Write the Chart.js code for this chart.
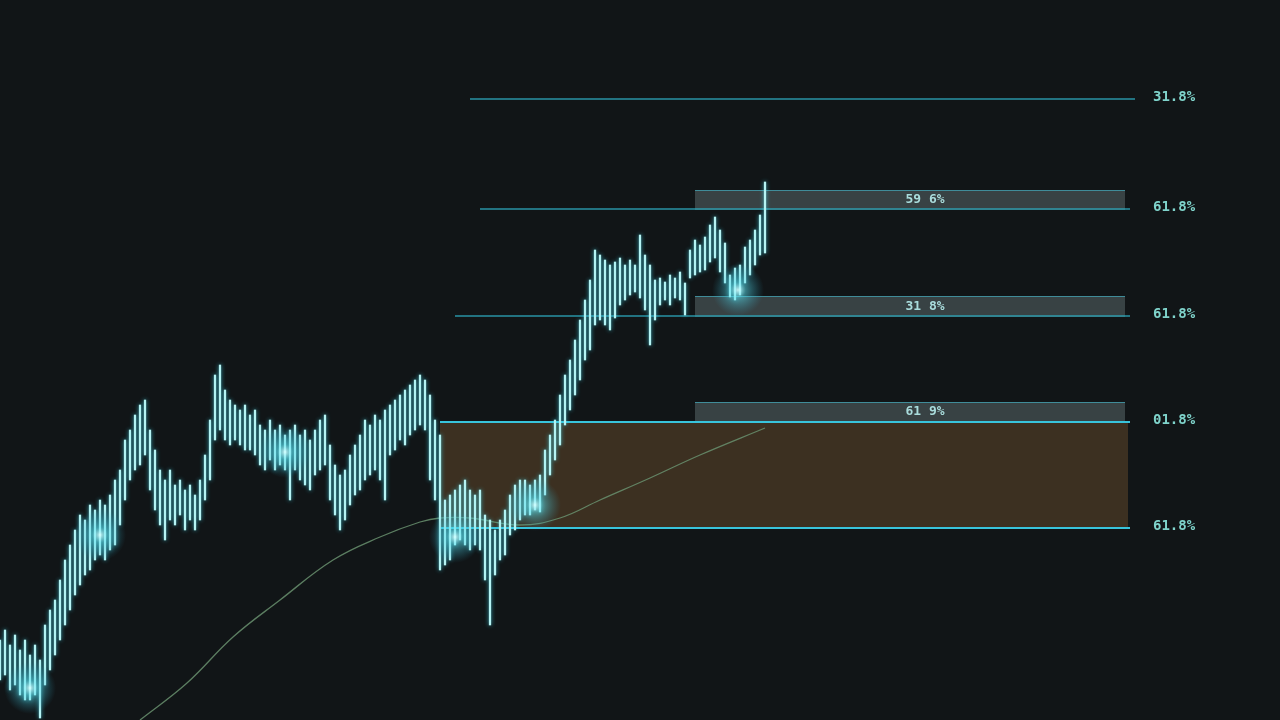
<!DOCTYPE html>
<html>
<head>
<meta charset="utf-8">
<script src="https://cdn.jsdelivr.net/npm/chart.js@4/dist/chart.umd.min.js"></script>
<style>
  html, body { margin: 0; padding: 0; background: #111517; }
  #wrap { width: 1280px; height: 720px; }
</style>
</head>
<body>
<div id="wrap"><canvas id="chart" width="1280" height="720"></canvas></div>
<script>
// ---------- data ----------
// bar index (one wick every step), price highs / lows
const highs = [
  8.0, 9.0, 7.5, 8.5, 7.0, 8.0, 6.5, 7.5, 6.0, 9.5,
  11.0, 12.0, 14.0, 16.0, 17.5, 19.0, 20.5, 20.0, 21.5, 21.0,
  22.0, 21.5, 22.5, 24.0, 25.0, 28.0, 29.0, 30.5, 31.5, 32.0,
  29.0, 27.0, 25.0, 24.0, 25.0, 23.5, 24.0, 23.0, 23.5, 22.5,
  24.0, 26.5, 30.0, 34.5, 35.5, 33.0, 32.0, 31.5, 31.0, 31.5,
  30.5, 31.0, 29.5, 29.0, 30.0, 29.0, 29.5, 28.5, 29.0, 29.5,
  28.5, 29.0, 28.0, 29.0, 30.0, 30.5, 27.5, 25.5, 24.5, 25.0,
  26.5, 27.5, 28.5, 30.0, 29.5, 30.5, 30.0, 31.0, 31.5, 32.0,
  32.5, 33.0, 33.5, 34.0, 34.5, 34.0, 32.5, 30.0, 28.5, 22.0,
  22.5, 23.0, 23.5, 24.0, 23.0, 22.5, 23.0, 20.5, 20.0, 19.0,
  20.0, 21.0, 22.5, 23.5, 24.0, 24.0, 23.5, 24.0, 24.5, 27.0,
  28.5, 30.0, 32.5, 34.5, 36.0, 38.0, 40.0, 42.0, 44.0, 47.0,
  46.5, 46.0, 45.5, 45.8, 46.2, 45.5, 46.0, 45.5, 48.5, 46.5,
  45.5, 44.0, 44.2, 43.8, 44.5, 44.2, 44.8, 43.7, 47.0, 48.0,
  47.5, 48.3, 49.5, 50.3, 49.0, 47.7, 44.5, 45.2, 45.5, 47.3,
  48.0, 49.0, 50.5, 53.8
];
const lows = [
  4.0, 4.5, 3.0, 3.5, 2.5, 2.0, 2.0, 2.5, 0.2, 3.5,
  5.0, 6.5, 8.0, 9.5, 11.0, 12.5, 13.5, 14.5, 15.0, 16.0,
  16.5, 16.0, 17.0, 17.5, 19.5, 22.0, 24.0, 25.0, 25.5, 26.5,
  23.0, 21.0, 19.5, 18.0, 20.0, 19.5, 20.5, 19.0, 20.0, 19.0,
  20.0, 22.0, 24.0, 28.0, 29.0, 28.0, 27.5, 28.0, 27.5, 27.0,
  27.0, 26.5, 25.5, 25.0, 26.0, 25.0, 25.5, 25.0, 22.0, 25.0,
  24.0, 23.5, 23.0, 24.5, 25.0, 25.5, 22.0, 20.5, 19.0, 20.0,
  21.5, 22.5, 23.0, 24.0, 24.5, 25.0, 24.0, 22.0, 26.5, 27.0,
  28.0, 27.5, 28.5, 29.0, 29.5, 29.0, 24.0, 22.0, 15.0, 15.5,
  16.0, 17.5, 18.0, 17.5, 17.0, 17.5, 17.0, 14.0, 9.5, 14.5,
  16.0, 16.5, 18.5, 19.0, 20.0, 20.5, 20.5, 21.0, 20.8, 22.5,
  24.5, 26.0, 27.5, 29.5, 31.0, 32.5, 34.0, 36.0, 37.0, 39.5,
  40.0, 39.5, 39.0, 40.2, 41.5, 42.0, 42.5, 42.8, 42.2, 41.0,
  37.5, 40.0, 41.5, 42.0, 41.5, 42.2, 42.0, 40.5, 44.2, 44.5,
  44.8, 45.0, 45.8, 46.2, 44.8, 43.7, 42.3, 42.0, 42.5, 43.7,
  44.5, 45.5, 46.5, 46.7
];

// slow moving average (bar index, price)
const maX = [28, 37.4, 46.6, 56, 66.6, 76, 84, 88, 94, 104, 112, 120, 130, 140, 153];
const maY = [0, 3.7, 8.3, 12, 16, 18.3, 19.8, 20.2, 20.2, 19.5, 20.2, 22, 24.2, 26.5, 29.2];

// fib levels
const levelPrice = [62.1, 51.1, 40.4, 29.8, 19.2];
const levelStart = [94, 96, 91, 88, 88];
const levelEnd   = [227, 226, 226, 226, 226];
const levelLabels = ['31.8%', '61.8%', '61.8%', '01.8%', '61.8%'];

// shaded zone
const zoneFrom = 88, zoneTo = 225.6, zoneHigh = 29.8, zoneLow = 19.2;

// label boxes
const boxFrom = 139, boxTo = 225;
const boxHigh = [53.0, 42.4, 31.8];
const boxLow  = [51.0, 40.3, 29.8];
const boxLabels = ['59 6%', '31 8%', '61 9%'];

// glow spots
const glowX = [6, 20, 57, 91, 107, 147.6];
const glowY = [3.2, 18.5, 26.8, 18.3, 21.5, 43.0];

// ---------- plugins ----------
const bgPlugin = {
  id: 'bg',
  beforeDraw(chart) {
    const { ctx, width, height } = chart;
    ctx.save();
    ctx.fillStyle = '#111517';
    ctx.fillRect(0, 0, width, height);
    ctx.restore();
  }
};

const zonesPlugin = {
  id: 'zones',
  beforeDatasetsDraw(chart) {
    const { ctx, scales: { x, y } } = chart;
    ctx.save();
    // brown zone
    ctx.fillStyle = '#3c3021';
    const zx0 = x.getPixelForValue(zoneFrom), zx1 = x.getPixelForValue(zoneTo);
    const zy0 = y.getPixelForValue(zoneHigh), zy1 = y.getPixelForValue(zoneLow);
    ctx.fillRect(zx0, zy0, zx1 - zx0, zy1 - zy0);
    // label boxes
    boxHigh.forEach((hi, i) => {
      const bx0 = x.getPixelForValue(boxFrom), bx1 = x.getPixelForValue(boxTo);
      const by0 = y.getPixelForValue(hi), by1 = y.getPixelForValue(boxLow[i]);
      ctx.fillStyle = 'rgba(66,78,80,0.8)';
      ctx.fillRect(bx0, by0, bx1 - bx0, by1 - by0);
      ctx.strokeStyle = 'rgba(70,190,210,0.6)';
      ctx.lineWidth = 1;
      ctx.beginPath();
      ctx.moveTo(bx0, by0 + 0.5);
      ctx.lineTo(bx1, by0 + 0.5);
      ctx.stroke();
    });
    ctx.restore();
  },
  afterDatasetsDraw(chart) {
    const { ctx, scales: { x, y } } = chart;
    ctx.save();
    // glows
    glowX.forEach((gx, i) => {
      const px = x.getPixelForValue(gx), py = y.getPixelForValue(glowY[i]);
      const g = ctx.createRadialGradient(px, py, 0, px, py, 26);
      g.addColorStop(0, 'rgba(215,255,255,0.9)');
      g.addColorStop(0.3, 'rgba(90,225,240,0.5)');
      g.addColorStop(1, 'rgba(40,160,190,0)');
      ctx.fillStyle = g;
      ctx.beginPath();
      ctx.arc(px, py, 26, 0, Math.PI * 2);
      ctx.fill();
    });
    // box labels
    ctx.font = 'bold 13px "DejaVu Sans Mono", monospace';
    ctx.textAlign = 'center';
    ctx.textBaseline = 'middle';
    ctx.fillStyle = '#a9dcdc';
    boxLabels.forEach((t, i) => {
      ctx.fillText(t, x.getPixelForValue((boxFrom + boxTo) / 2 + 3),
        y.getPixelForValue((boxHigh[i] + boxLow[i]) / 2));
    });
    // right labels
    ctx.font = 'bold 14px "DejaVu Sans Mono", monospace';
    ctx.textAlign = 'left';
    ctx.fillStyle = '#7fd3cb';
    levelLabels.forEach((t, i) => {
      ctx.fillText(t, x.getPixelForValue(230.6), y.getPixelForValue(levelPrice[i]) - 2);
    });
    ctx.restore();
  }
};

const glowBars = {
  id: 'glowBars',
  beforeDatasetDraw(chart, args) {
    if (args.meta.type !== 'bar') return;
    const ctx = chart.ctx;
    ctx.save();
    ctx.shadowColor = 'rgba(60,215,235,0.8)';
    ctx.shadowBlur = 4;
  },
  afterDatasetDraw(chart, args) {
    if (args.meta.type !== 'bar') return;
    chart.ctx.restore();
  }
};

// ---------- datasets ----------
const datasets = [];

levelPrice.forEach((p, i) => {
  datasets.push({
    type: 'line',
    data: [{ x: levelStart[i], y: p }, { x: levelEnd[i], y: p }],
    borderColor: i < 3 ? 'rgba(45,170,190,0.85)' : '#38c4dc',
    borderWidth: i < 3 ? 1.5 : 2,
    pointRadius: 0,
    order: 3
  });
});

datasets.push({
  type: 'line',
  data: maX.map((v, i) => ({ x: v, y: maY[i] })),
  borderColor: 'rgba(105,145,110,0.85)',
  borderWidth: 1.3,
  pointRadius: 0,
  tension: 0.4,
  order: 2
});

datasets.push({
  type: 'bar',
  data: highs.map((h, i) => ({ x: i, y: [lows[i], h] })),
  backgroundColor: '#b6f4f4',
  barThickness: 1.6,
  order: 1
});

new Chart(document.getElementById('chart'), {
  type: 'bar',
  data: { datasets },
  options: {
    responsive: false,
    devicePixelRatio: 1,
    animation: false,
    layout: { padding: 0 },
    plugins: { legend: { display: false }, tooltip: { enabled: false } },
    scales: {
      x: { type: 'linear', min: 0, max: 256, offset: false, display: false },
      y: { min: 0, max: 72, display: false }
    }
  },
  plugins: [bgPlugin, zonesPlugin, glowBars]
});
</script>
</body>
</html>
